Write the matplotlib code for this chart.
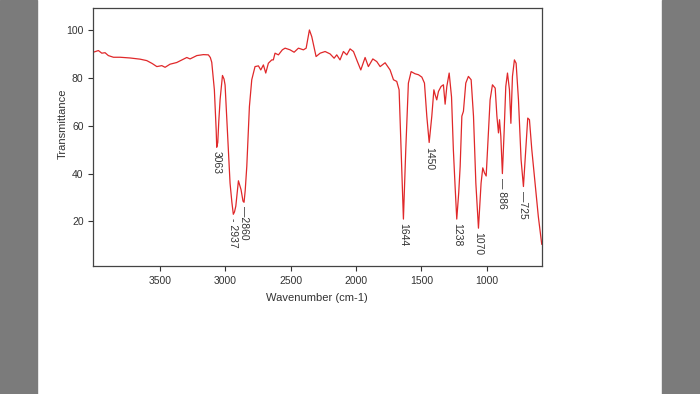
import matplotlib
matplotlib.use("Agg")
import matplotlib.pyplot as plt
import numpy as np
from matplotlib.patches import Rectangle

plt.rcParams['font.family'] = ['Liberation Sans', 'DejaVu Sans']

# IR spectrum (wavenumber cm-1, % transmittance)
wavenumber = [4010, 3971, 3945, 3920, 3895, 3856, 3805, 3729, 3652, 3601, 3560, 3524,
              3486, 3461, 3423, 3372, 3321, 3295, 3270, 3218, 3168, 3130, 3115, 3104,
              3084, 3070, 3066, 3058, 3050, 3040, 3022, 3010, 3002, 2981, 2964, 2950,
              2939, 2930, 2920, 2900, 2880, 2865, 2857, 2848, 2836, 2816, 2798, 2773,
              2747, 2729, 2709, 2691, 2671, 2645, 2633, 2620, 2594, 2564, 2543, 2505,
              2474, 2441, 2403, 2382, 2357, 2339, 2306, 2275, 2237, 2199, 2168, 2148,
              2123, 2097, 2071, 2046, 2020, 1990, 1964, 1931, 1906, 1872, 1842, 1816,
              1778, 1740, 1714, 1689, 1671, 1656, 1638, 1620, 1600, 1579, 1549, 1523,
              1497, 1477, 1459, 1441, 1421, 1405, 1395, 1383, 1370, 1350, 1332, 1319,
              1306, 1288, 1270, 1256, 1243, 1230, 1215, 1204, 1191, 1179, 1161, 1141,
              1120, 1102, 1084, 1064, 1044, 1031, 1018, 1005, 992, 975, 957, 936,
              923, 911, 903, 893, 881, 868, 855, 842, 827, 816, 804, 789,
              776, 758, 738, 720, 702, 687, 674, 656, 631, 606, 580]
transmittance = [90.7, 91.4, 90.3, 90.5, 89.3, 88.6, 88.6, 88.3, 87.8, 87.2, 86.0, 84.7,
                 85.1, 84.4, 85.7, 86.4, 87.8, 88.5, 87.9, 89.3, 89.7, 89.6, 88.5, 86.5,
                 75.0, 58.0, 51.0, 53.0, 62.0, 71.0, 81.0, 79.5, 77.0, 54.0, 36.0, 28.0,
                 23.0, 24.0, 26.4, 37.0, 33.3, 28.5, 28.0, 33.0, 43.0, 68.0, 79.2, 84.7,
                 85.0, 83.3, 85.4, 82.0, 86.1, 87.5, 87.5, 90.3, 89.6, 91.7, 92.4, 91.7,
                 90.7, 92.4, 91.7, 92.4, 100.0, 97.2, 88.9, 90.3, 91.0, 90.0, 88.2, 89.6,
                 87.5, 91.0, 89.6, 92.1, 91.0, 86.8, 83.3, 88.5, 84.7, 87.9, 86.8, 84.7,
                 86.3, 83.3, 79.2, 78.5, 75.0, 50.0, 21.0, 50.0, 77.8, 82.6, 81.7, 81.3,
                 80.3, 77.8, 63.9, 53.0, 63.9, 75.0, 72.9, 70.8, 74.3, 76.4, 77.1, 69.0,
                 76.4, 82.0, 72.0, 50.0, 35.0, 21.0, 32.0, 43.0, 64.0, 66.0, 77.8, 80.6,
                 79.2, 64.0, 36.0, 17.2, 36.0, 42.4, 40.3, 39.0, 52.8, 70.8, 77.1, 75.7,
                 64.0, 57.0, 62.5, 55.6, 40.0, 57.0, 76.4, 82.0, 75.0, 61.0, 80.6, 87.5,
                 86.1, 70.8, 45.8, 34.6, 50.0, 63.2, 62.5, 50.0, 36.0, 22.0, 10.5]

# peak annotations
peak_wn = [3066, 2939, 2857, 1638, 1441, 1230, 1064, 881, 720]
peak_labels = ["3063", "- 2937", "\u20142860", "1644", "1450", "1238", "1070",
               "\u2014 886", "\u2014725"]

xticks = [3500, 3000, 2500, 2000, 1500, 1000]
yticks = [20, 40, 60, 80, 100]

fig = plt.figure(figsize=(7, 3.94), dpi=100)
fig.patch.set_facecolor('white')
fig.patches.append(Rectangle((0, 0), 37 / 700, 1, transform=fig.transFigure,
                             color='#7b7b7b', zorder=0))
fig.patches.append(Rectangle((662 / 700, 0), 38 / 700, 1, transform=fig.transFigure,
                             color='#7b7b7b', zorder=0))

ax = fig.add_axes([93.3 / 700, 1 - 266 / 394, (542 - 93.3) / 700, (266 - 7.7) / 394])
ax.plot(wavenumber, transmittance, color='#e0282a', lw=0.9)
ax.set_xlim(4010, 578)
ax.set_ylim(1.4, 109.3)
ax.set_xticks(xticks)
ax.set_yticks(yticks)
ax.tick_params(labelsize=7.5, colors='#333333', length=3.5, width=0.8)
for s in ax.spines.values():
    s.set_color('#444444')
    s.set_linewidth(0.9)

for w, lab in zip(peak_wn, peak_labels):
    t = np.interp(w, wavenumber[::-1], transmittance[::-1])
    ax.annotate(lab, (w, t), xytext=(0, -3), textcoords='offset points',
                rotation=270, ha='center', va='top', fontsize=7.5, color='#333333')

fig.text(317 / 700, 1 - 298 / 394, "Wavenumber (cm-1)", ha='center', va='center',
         fontsize=8, color='#333333')
fig.text(63 / 700, 1 - 124 / 394, "Transmittance", ha='center', va='center',
         rotation=90, fontsize=8, color='#333333')

fig.savefig("out.png", dpi=100)
